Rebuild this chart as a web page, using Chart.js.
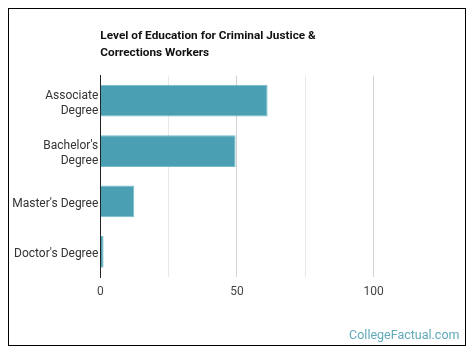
<!DOCTYPE html>
<html>
<head>
<meta charset="utf-8">
<script src="https://cdn.jsdelivr.net/npm/chart.js@4.4.0/dist/chart.umd.min.js"></script>
<style>
  html, body { margin: 0; padding: 0; background: #fff; }
  #box { position: absolute; left: 8px; top: 8px; width: 456px; height: 336px; border: 1px solid #000; }
  #box canvas { display: block; }
</style>
</head>
<body>
<div id="box"><canvas id="c" width="456" height="336"></canvas></div>
<script>
const titleLines = ["Level of Education for Criminal Justice &", "Corrections Workers"];
const categories = [["Associate", "Degree"], ["Bachelor's", "Degree"], "Master's Degree", "Doctor's Degree"];
const values = [61.2, 49.5, 12.4, 1.2];
const tickLabels = ["0", "50", "100"];
const watermark = "CollegeFactual.com";

const FONT = "Roboto, 'Noto Sans', sans-serif";

const extraText = {
  id: 'extraText',
  afterDraw(chart) {
    const ctx = chart.ctx;
    const a = chart.chartArea;
    ctx.save();
    ctx.fillStyle = '#111';
    ctx.font = "bold 11.8px " + FONT;
    ctx.textAlign = 'left';
    ctx.textBaseline = 'middle';
    titleLines.forEach((t, i) => ctx.fillText(t, a.left, 27.5 + i * 16.5));
    ctx.fillStyle = '#62a9bb';
    ctx.font = "12.5px " + FONT;
    ctx.textAlign = 'right';
    ctx.fillText(watermark, chart.width - 5.5, 326.5);
    ctx.restore();
  }
};

new Chart(document.getElementById('c'), {
  type: 'bar',
  data: {
    labels: categories,
    datasets: [{
      data: values,
      backgroundColor: '#4a9fb2',
      borderColor: '#74bccb',
      borderWidth: 1,
      barPercentage: 0.9,
      categoryPercentage: 0.7
    }]
  },
  options: {
    indexAxis: 'y',
    responsive: false,
    animation: false,
    events: [],
    layout: { padding: { left: 0, right: 23, top: 66.5, bottom: 0 } },
    plugins: { legend: { display: false }, tooltip: { enabled: false }, title: { display: false } },
    scales: {
      x: {
        min: 0,
        max: 125,
        afterFit(s) { s.height = 68; },
        ticks: {
          stepSize: 25,
          padding: 7.5,
          color: '#444',
          font: { family: FONT, size: 12 },
          callback(v) { const s = String(v); return tickLabels.includes(s) ? s : ''; }
        },
        grid: {
          drawTicks: false,
          lineWidth: 1,
          color(ctx) {
            const v = ctx.tick && ctx.tick.value;
            if (v === 50 || v === 100) return '#d2d2d2';
            if (v === 25 || v === 75) return '#e9e9e9';
            return 'rgba(0,0,0,0)';
          }
        },
        border: { display: false }
      },
      y: {
        afterFit(s) { s.width = 91.3; },
        ticks: {
          padding: 2,
          labelOffset: 2.5,
          color: '#333',
          font: { family: FONT, size: 12, lineHeight: 1.25 }
        },
        grid: { display: false, drawTicks: false },
        border: { display: true, color: '#222', width: 1 }
      }
    }
  },
  plugins: [extraText]
});
</script>
</body>
</html>
